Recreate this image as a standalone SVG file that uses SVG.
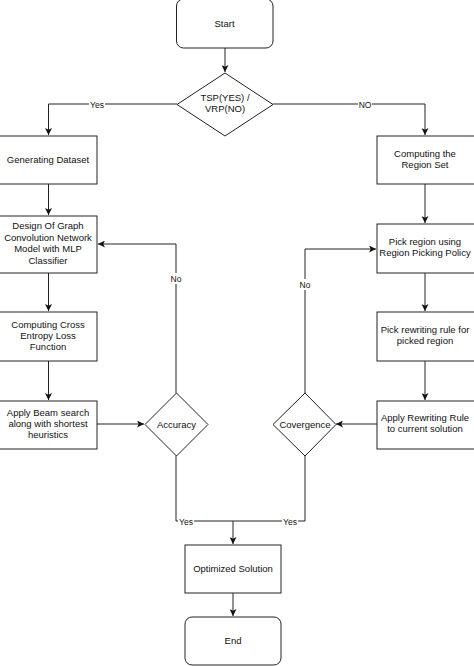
<svg xmlns="http://www.w3.org/2000/svg" width="474" height="666" viewBox="0 0 474 666">
<style>
.n{fill:#fff;stroke:#222;stroke-width:1}
.t{font-family:"Liberation Sans",Arial,sans-serif;font-size:9.5px;fill:#111;text-anchor:middle}
.l{font-family:"Liberation Sans",Arial,sans-serif;font-size:8.5px;fill:#111;text-anchor:middle}
.c{fill:none;stroke:#222;stroke-width:1}
.bg{fill:#fff}
</style>
<defs>
<marker id="a" viewBox="0 0 10 10" refX="10" refY="5" markerWidth="7" markerHeight="7" markerUnits="userSpaceOnUse" orient="auto">
<path d="M0,0 L10,5 L0,10 L2.5,5 Z" fill="#111"/>
</marker>
</defs>
<rect width="474" height="666" fill="#fff"/>
<g id="connectors">
<path class="c" d="M225,48 V72" marker-end="url(#a)"/>
<path class="c" d="M177,104 H48.5 V135" marker-end="url(#a)"/>
<path class="c" d="M273,104 H425 V135" marker-end="url(#a)"/>
<path class="c" d="M48.5,184 V215" marker-end="url(#a)"/>
<path class="c" d="M48.5,273 V311" marker-end="url(#a)"/>
<path class="c" d="M48.5,361 V400" marker-end="url(#a)"/>
<path class="c" d="M97,424 H144" marker-end="url(#a)"/>
<path class="c" d="M176,393 V244 H98" marker-end="url(#a)"/>
<path class="c" d="M425,184 V223" marker-end="url(#a)"/>
<path class="c" d="M425,273 V311" marker-end="url(#a)"/>
<path class="c" d="M425,361 V400" marker-end="url(#a)"/>
<path class="c" d="M377,424 H336" marker-end="url(#a)"/>
<path class="c" d="M305,393 V249 H376" marker-end="url(#a)"/>
<path class="c" d="M176,456 V521 H233 V544" marker-end="url(#a)"/>
<path class="c" d="M305,456 V521 H233"/>
<path class="c" d="M233,593 V616" marker-end="url(#a)"/>
<rect class="bg" x="89" y="99" width="16" height="11"/>
<text class="l" x="97" y="107.5">Yes</text>
<rect class="bg" x="358" y="99" width="14" height="11"/>
<text class="l" x="365" y="107.5">NO</text>
<rect class="bg" x="170" y="273" width="12" height="11"/>
<text class="l" x="176" y="282">No</text>
<rect class="bg" x="299" y="279" width="12" height="11"/>
<text class="l" x="305" y="288">No</text>
<rect class="bg" x="178" y="517" width="16" height="10"/>
<text class="l" x="186" y="525">Yes</text>
<rect class="bg" x="282" y="517" width="16" height="10"/>
<text class="l" x="290" y="525">Yes</text>
</g>
<g id="start">
<rect class="n" x="176.5" y="-1" width="96.5" height="49" rx="7"/>
<text class="t" x="224.5" y="26.5">Start</text>
</g>
<g id="decision">
<path class="n" d="M225,73 L273,104.5 L225,136 L177,104.5 Z"/>
<text class="t" x="225" y="101">TSP(YES) /</text>
<text class="t" x="225" y="112">VRP(NO)</text>
</g>
<g id="generating">
<rect class="n" x="-1" y="136" width="98" height="48"/>
<text class="t" x="48" y="162.5">Generating Dataset</text>
</g>
<g id="design">
<rect class="n" x="-1" y="216" width="98" height="57"/>
<text class="t" x="48" y="229">Design Of Graph</text>
<text class="t" x="48" y="241">Convolution Network</text>
<text class="t" x="48" y="252">Model with MLP</text>
<text class="t" x="48" y="264">Classifier</text>
</g>
<g id="crossentropy">
<rect class="n" x="-1" y="312" width="98" height="49"/>
<text class="t" x="48" y="327.5">Computing Cross</text>
<text class="t" x="48" y="339">Entropy Loss</text>
<text class="t" x="48" y="350">Function</text>
</g>
<g id="beam">
<rect class="n" x="-1" y="401" width="98" height="48"/>
<text class="t" x="48" y="415.5">Apply Beam search</text>
<text class="t" x="48" y="427">along with shortest</text>
<text class="t" x="48" y="438">heuristics</text>
</g>
<g id="accuracy">
<path class="n" d="M176.5,393 L208,424.5 L176.5,456 L145,424.5 Z"/>
<text class="t" x="176.5" y="427.5">Accuracy</text>
</g>
<g id="regionset">
<rect class="n" x="377" y="136" width="98" height="48"/>
<text class="t" x="425" y="157">Computing the</text>
<text class="t" x="425" y="168">Region Set</text>
</g>
<g id="pickregion">
<rect class="n" x="377" y="224" width="98" height="49"/>
<text class="t" x="425" y="245">Pick region using</text>
<text class="t" x="425" y="256">Region Picking Policy</text>
</g>
<g id="pickrule">
<rect class="n" x="377" y="312" width="98" height="49"/>
<text class="t" x="425" y="333">Pick rewriting rule for</text>
<text class="t" x="425" y="344">picked region</text>
</g>
<g id="applyrule">
<rect class="n" x="377" y="401" width="98" height="48"/>
<text class="t" x="425" y="421">Apply Rewriting Rule</text>
<text class="t" x="425" y="432">to current solution</text>
</g>
<g id="convergence">
<path class="n" d="M305,393 L336,424.5 L305,456 L273,424.5 Z"/>
<text class="t" x="305" y="427.5">Covergence</text>
</g>
<g id="optimized">
<rect class="n" x="185" y="545" width="96" height="48"/>
<text class="t" x="233" y="571.5">Optimized Solution</text>
</g>
<g id="end">
<rect class="n" x="185" y="617" width="96" height="48" rx="7"/>
<text class="t" x="233" y="643.5">End</text>
</g>
</svg>
